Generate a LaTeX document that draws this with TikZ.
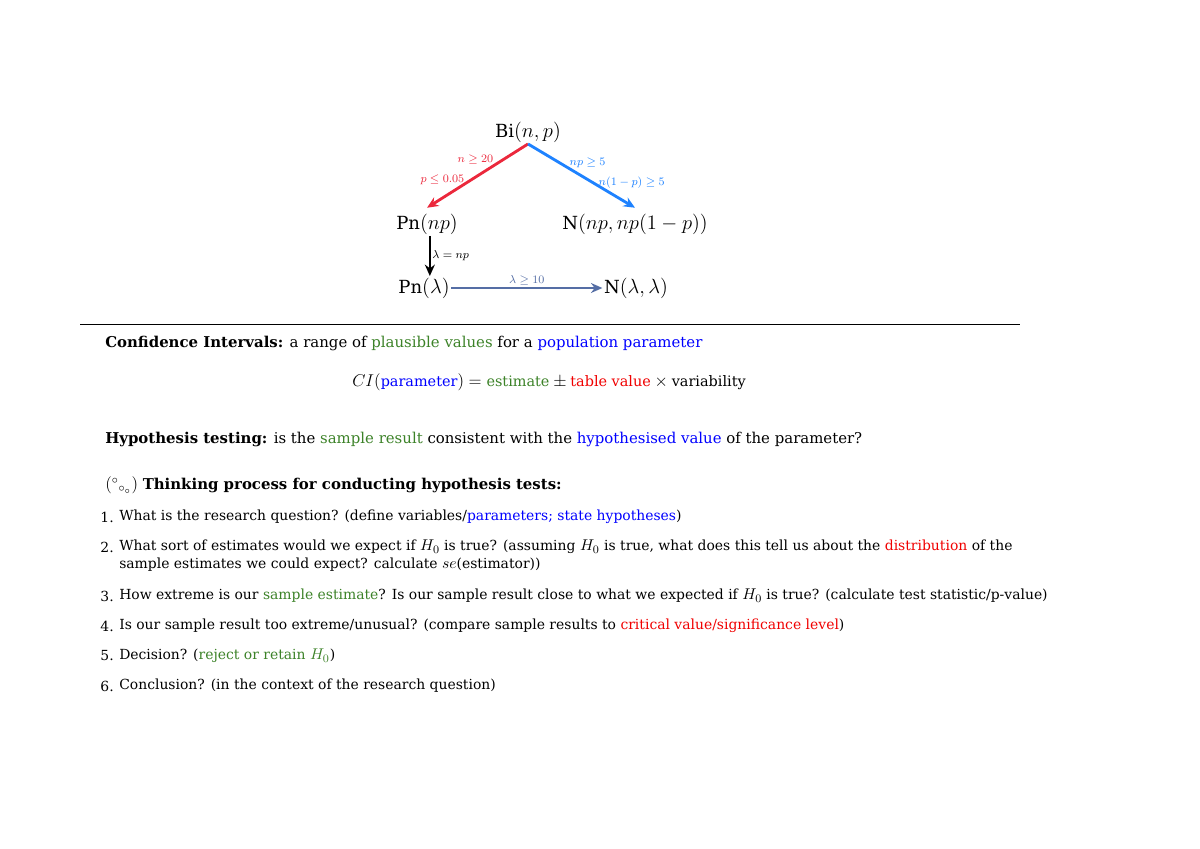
\documentclass[tikz,border=0pt]{standalone}
\usepackage{amsmath,amssymb}
\usepackage{fontspec}
\setmainfont{DejaVu Serif}[Scale=0.88]
\usetikzlibrary{arrows.meta}
\definecolor{cred}{RGB}{235,40,60}
\definecolor{cblue}{RGB}{30,130,255}
\definecolor{cslate}{RGB}{85,110,165}
\definecolor{cgreen}{RGB}{60,130,40}
\definecolor{pblue}{RGB}{0,0,255}
\definecolor{pred}{RGB}{240,0,0}
\tikzset{
  dist/.style={font=\Large,inner sep=1pt},
  lab/.style={font=\footnotesize,inner sep=1pt},
  txt/.style={anchor=west,inner sep=0pt,font=\fontsize{11.9}{14}\selectfont},
  arr/.style={line width=2pt,-{Stealth[length=8pt,width=7pt]}},
}
\newcommand{\G}[1]{\textcolor{cgreen}{#1}}
\newcommand{\B}[1]{\textcolor{pblue}{#1}}
\newcommand{\R}[1]{\textcolor{pred}{#1}}
\begin{document}
\begin{tikzpicture}[x=0.7017pt,y=-0.7017pt]
\useasboundingbox (0,0) rectangle (1200,849);
\node[dist] (bi) at (528,132) {Bi$(n,p)$};
\node[dist] (pnp) at (427,224) {Pn$(np)$};
\node[dist] (nnp) at (635,224) {N$(np,np(1-p))$};
\node[dist] (pl) at (424,288) {Pn$(\lambda)$};
\node[dist] (nl) at (636,288) {N$(\lambda,\lambda)$};
\draw[arr,cred] (bi.south) -- ([yshift=3pt]pnp.north);
\draw[arr,cblue] (bi.south) -- ([yshift=3pt]nnp.north);
\node[lab,text=cred,anchor=east] (l1) at (495,160) {$n\ge 20$};
\node[lab,text=cred,anchor=east] (l2) at (466,180) {$p\le 0.05$};
\node[lab,text=cblue,anchor=west] (l3) at (568,163) {$np\ge 5$};
\node[lab,text=cblue,anchor=west] (l4) at (597,183) {$n(1-p)\ge 5$};
\draw[arr,black,line width=1.6pt] ([xshift=2pt]pnp.south) -- ([xshift=2pt]pnp.south |- pl.north) node[midway,lab,right] {$\lambda=np$};
\draw[arr,cslate,line width=1.6pt] (pl.east) -- (nl.west) node[midway,lab,above,text=cslate] {$\lambda\ge 10$};
\coordinate (la) at (80,324); \coordinate (lb) at (1020,324);
\draw[line width=0.6pt] (la) -- (lb);
\node[txt] (ci) at (105,343) {\textbf{Confidence Intervals:} a range of \G{plausible values} for a \B{population parameter}};
\node[inner sep=0pt,font=\fontsize{11.5}{14}\selectfont] (cif) at (549,382) {$CI(\text{\B{parameter}})=\text{\G{estimate}}\pm\text{\R{table value}}\times\text{variability}$};
\node[txt] (ht) at (105,439) {\textbf{Hypothesis testing:} is the \G{sample result} consistent with the \B{hypothesised value} of the parameter?};
\node[txt] (tp) at (105,485) {$({}^{\circ}{}_{\circ_\circ})$ \textbf{Thinking process for conducting hypothesis tests:}};
\tikzset{num/.style={anchor=east,inner sep=0pt,font=\fontsize{11.1}{13}\selectfont},itm/.style={anchor=west,inner sep=0pt,font=\fontsize{11.1}{13}\selectfont}}
\node[num] (n1) at (114,517) {1.};
\node[itm] (i1) at (119,517) {What is the research question? (define variables/\B{parameters; state hypotheses})};
\node[num] (n2) at (114,547) {2.};
\node[itm] (i2) at (119,547) {What sort of estimates would we expect if $H_0$ is true? (assuming $H_0$ is true, what does this tell us about the \R{distribution} of the};
\node[itm] (i2b) at (119,565) {sample estimates we could expect? calculate $se$(estimator))};
\node[num] (n3) at (114,596) {3.};
\node[itm] (i3) at (119,596) {How extreme is our \G{sample estimate}? Is our sample result close to what we expected if $H_0$ is true? (calculate test statistic/p-value)};
\node[num] (n4) at (114,626) {4.};
\node[itm] (i4) at (119,626) {Is our sample result too extreme/unusual? (compare sample results to \R{critical value/significance level})};
\node[num] (n5) at (114,656) {5.};
\node[itm] (i5) at (119,656) {Decision? (\G{reject or retain $H_0$})};
\node[num] (n6) at (114,686) {6.};
\node[itm] (i6) at (119,686) {Conclusion? (in the context of the research question)};
\end{tikzpicture}
\end{document}
